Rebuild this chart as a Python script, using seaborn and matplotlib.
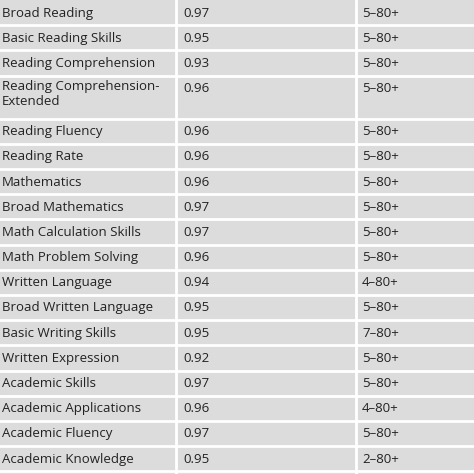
import numpy as np
import seaborn as sns
import matplotlib.pyplot as plt

tests = ["Broad Reading", "Basic Reading Skills", "Reading Comprehension",
         "Reading Comprehension-\nExtended", "Reading Fluency", "Reading Rate",
         "Mathematics", "Broad Mathematics", "Math Calculation Skills",
         "Math Problem Solving", "Written Language", "Broad Written Language",
         "Basic Writing Skills", "Written Expression", "Academic Skills",
         "Academic Applications", "Academic Fluency", "Academic Knowledge"]
reliability = ["0.97", "0.95", "0.93", "0.96", "0.96", "0.96", "0.96", "0.97", "0.97",
               "0.96", "0.94", "0.95", "0.95", "0.92", "0.97", "0.96", "0.97", "0.95"]
ages = ["5–80+", "5–80+", "5–80+", "5–80+", "5–80+", "5–80+", "5–80+", "5–80+", "5–80+",
        "5–80+", "4–80+", "5–80+", "7–80+", "5–80+", "5–80+", "4–80+", "5–80+", "2–80+"]

sns.set_theme(style="white")
plt.rcParams['font.family'] = ['Open Sans', 'DejaVu Sans']

fig = plt.figure(figsize=(4.74, 4.74), dpi=100)
ax = fig.add_axes([0, 0, 1, 1])
ax.set_xlim(0, 474)
ax.set_ylim(474, 0)
ax.set_facecolor("#dcdcdc")
ax.axis("off")
fig.patch.set_facecolor("#dcdcdc")

row_h = 25.2
heights = [row_h if "\n" not in t else 43.0 for t in tests]
tops = np.concatenate([[0], np.cumsum(heights)])

style = dict(fontsize=9.5, color="#222222")
for i, (t, r, a) in enumerate(zip(tests, reliability, ages)):
    y = tops[i] + 13
    if "\n" in t:
        ax.text(2, tops[i] + 4, t, va="top", linespacing=1.25, **style)
    else:
        ax.text(2, y, t, va="center", **style)
    ax.text(183, y, r, va="center", **style)
    ax.text(362, y, a, va="center", **style)

for y in tops[1:]:
    ax.axhline(y, color="white", lw=2)
for x in [176, 356]:
    ax.axvline(x, color="white", lw=2)

fig.savefig("out.png", dpi=100, facecolor=fig.get_facecolor())
